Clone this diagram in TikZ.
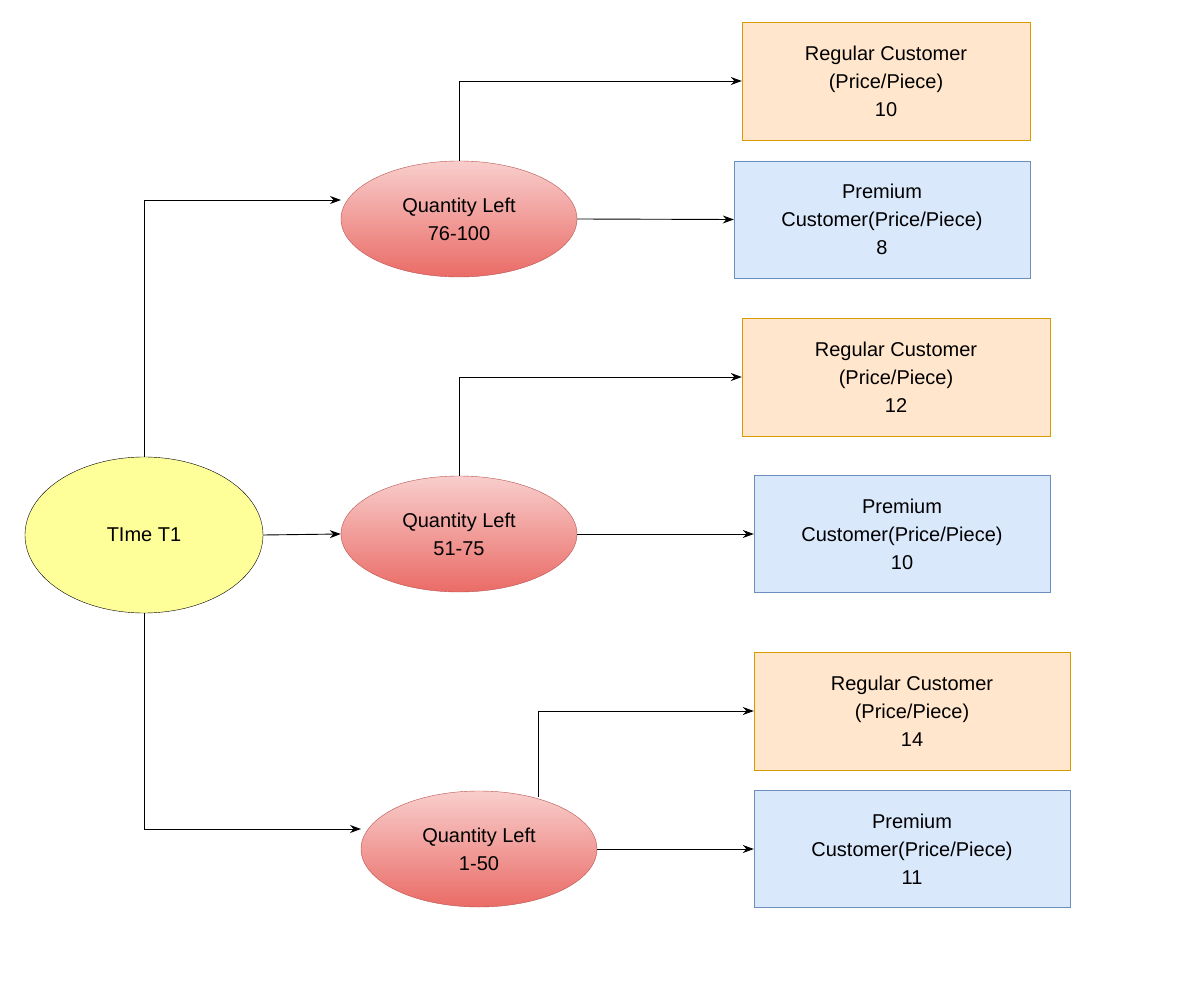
\documentclass[tikz,border=0pt]{standalone}
\usepackage{fontspec}
\setmainfont{Liberation Sans}
\usetikzlibrary{shapes.geometric,arrows.meta}
\definecolor{ofill}{HTML}{FFE6CC}\definecolor{oline}{HTML}{D79B00}
\definecolor{bfill}{HTML}{DAE8FC}\definecolor{bline}{HTML}{6C8EBF}
\definecolor{rtop}{HTML}{F8CECC}\definecolor{rbot}{HTML}{EA6B66}\definecolor{rline}{HTML}{B85450}
\begin{document}
\begin{tikzpicture}[x=1pt,y=-1pt,
  txt/.style={font=\fontsize{20}{28}\selectfont,align=center},
  q/.style={ellipse,txt,draw=rline,top color=rtop,bottom color=rbot,minimum width=236pt,minimum height=116pt,inner sep=0pt},
  reg/.style={rectangle,txt,draw=oline,fill=ofill,minimum height=118pt,inner sep=0pt},
  prem/.style={rectangle,txt,draw=bline,fill=bfill,minimum height=117pt,inner sep=0pt},
  arr/.style={-{Stealth[length=11pt,width=8pt]},line width=0.9pt}]
\useasboundingbox (0,0) rectangle (1200,984);
\node[ellipse,txt,draw,fill={rgb,255:red,255;green,255;blue,153},minimum width=238pt,minimum height=156pt] (t1) at (144,535) {TIme T1};
\node[q] (q1) at (459,219) {Quantity Left\\76-100};
\node[q] (q2) at (459,534) {Quantity Left\\51-75};
\node[q] (q3) at (479,849) {Quantity Left\\1-50};
\node[reg,minimum width=288pt] (r1) at (886,81) {Regular Customer\\(Price/Piece)\\10};
\node[prem,minimum width=296pt] (p1) at (882,219.5) {Premium\\Customer(Price/Piece)\\8};
\node[reg,minimum width=308pt] (r2) at (896,377) {Regular Customer\\(Price/Piece)\\12};
\node[prem,minimum width=296pt] (p2) at (902,534) {Premium\\Customer(Price/Piece)\\10};
\node[reg,minimum width=316pt] (r3) at (912,711) {Regular Customer\\(Price/Piece)\\14};
\node[prem,minimum width=316pt] (p3) at (912,849) {Premium\\Customer(Price/Piece)\\11};
\coordinate (a1) at (341,200);
\coordinate (a3) at (361,829);
\coordinate (s3) at (538,797);
\draw[arr] (t1.north) |- (a1);
\draw[arr] (t1.east) -- (q2.west);
\draw[arr] (t1.south) |- (a3);
\draw[arr] (q1.north) |- (r1.west);
\draw[arr] (q1.east) -- (p1.west);
\draw[arr] (q2.north) |- (r2.west);
\draw[arr] (q2.east) -- (p2.west);
\draw[arr] (s3) |- (r3.west);
\draw[arr] (q3.east) -- (p3.west);
\end{tikzpicture}
\end{document}
